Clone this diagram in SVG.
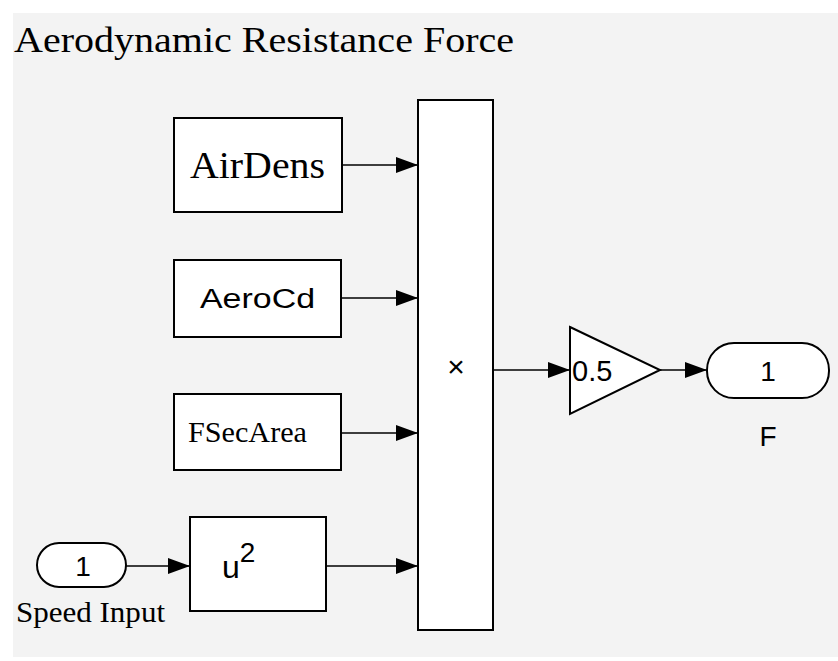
<svg xmlns="http://www.w3.org/2000/svg" width="838" height="661" viewBox="0 0 838 661">
<style>
.b{fill:#fff;stroke:#000;stroke-width:2}
.l{stroke:#000;stroke-width:1.5;fill:none}
.s{font-family:"Liberation Serif",serif;fill:#000}
.a{font-family:"Liberation Sans",sans-serif;fill:#000}
</style>
<defs><marker id="ar" markerWidth="22" markerHeight="16" refX="22" refY="8" orient="auto" markerUnits="userSpaceOnUse"><path d="M0,0 L22,8 L0,16z" fill="#000"/></marker></defs>
<rect width="838" height="661" fill="#fff"/>
<rect x="13" y="13" width="825" height="644" fill="#f3f3f3"/>
<text class="s" x="14" y="52" font-size="36" textLength="500" lengthAdjust="spacingAndGlyphs">Aerodynamic Resistance Force</text>
<g id="connectors">
<line class="l" x1="342" y1="165" x2="418" y2="165" marker-end="url(#ar)"/>
<line class="l" x1="341" y1="298" x2="418" y2="298" marker-end="url(#ar)"/>
<line class="l" x1="341" y1="433" x2="418" y2="433" marker-end="url(#ar)"/>
<line class="l" x1="326" y1="566" x2="418" y2="566" marker-end="url(#ar)"/>
<line class="l" x1="126" y1="566" x2="190" y2="566" marker-end="url(#ar)"/>
<line class="l" x1="493" y1="370" x2="570" y2="370" marker-end="url(#ar)"/>
<line class="l" x1="660" y1="370" x2="707" y2="370" marker-end="url(#ar)"/>
</g>
<g id="airdens"><rect class="b" x="174" y="118" width="168" height="94"/><text class="s" x="190" y="178" font-size="38" textLength="135" lengthAdjust="spacingAndGlyphs">AirDens</text></g>
<g id="aerocd"><rect class="b" x="174" y="260" width="167" height="77"/><text class="a" x="200" y="308" font-size="27" textLength="115" lengthAdjust="spacingAndGlyphs">AeroCd</text></g>
<g id="fsecarea"><rect class="b" x="174" y="394" width="167" height="76"/><text class="s" x="188" y="442" font-size="29" textLength="119" lengthAdjust="spacingAndGlyphs">FSecArea</text></g>
<g id="square"><rect class="b" x="190" y="517" width="136" height="94"/><text class="a" x="222" y="578" font-size="32">u<tspan dy="-16" font-size="28">2</tspan></text></g>
<g id="product"><rect class="b" x="418" y="100" width="75" height="530"/><text class="a" x="456" y="377" font-size="30" text-anchor="middle" fill="#444">×</text></g>
<g id="gain"><path class="b" d="M570,327 L660,370 L570,414Z"/><text class="a" x="572" y="381" font-size="29">0.5</text></g>
<g id="out"><rect class="b" x="707" y="343" width="122" height="55" rx="27"/><text class="a" x="768" y="381" font-size="28" text-anchor="middle">1</text><text class="a" x="768" y="446" font-size="28" text-anchor="middle">F</text></g>
<g id="in"><rect class="b" x="37" y="543" width="89" height="44" rx="22"/><text class="a" x="83" y="576" font-size="28" text-anchor="middle">1</text><text class="s" x="16" y="622" font-size="30" textLength="149" lengthAdjust="spacingAndGlyphs">Speed Input</text></g>
</svg>
